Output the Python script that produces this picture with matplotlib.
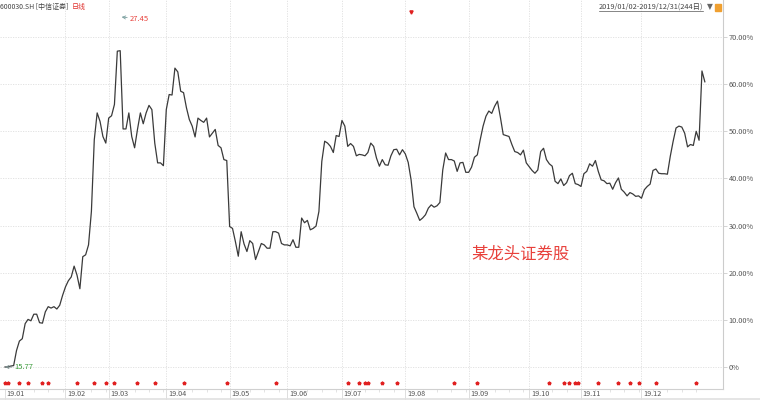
import matplotlib
matplotlib.use("Agg")
import matplotlib.pyplot as plt
from matplotlib.lines import Line2D
from matplotlib.patches import Rectangle

plt.rcParams['font.family'] = ['Noto Sans CJK SC', 'DejaVu Sans']

W, H = 760, 400

# 日线收盘涨幅(相对首日, %), 2019/01/02-2019/12/31
close_pct = [
    0.0, 0.0, 0.2, 0.3, 3.5, 5.5, 6.0, 9.2, 10.1, 9.8, 11.2, 11.2, 9.4, 9.3,
    11.7, 12.8, 12.5, 12.8, 12.3, 13.1, 15.2, 17.0, 18.3, 19.1, 21.4, 19.5,
    16.6, 23.4, 23.8, 25.9, 33.0, 48.2, 53.9, 52.1, 48.9, 47.5, 52.8, 53.3,
    55.7, 67.0, 67.1, 50.5, 50.5, 53.9, 48.9, 46.5, 50.4, 53.9, 51.6, 53.9,
    55.5, 54.6, 47.5, 43.3, 43.3, 42.7, 54.6, 57.8, 57.7, 63.4, 62.6, 58.5,
    58.2, 55.0, 52.5, 51.1, 48.8, 52.8, 52.3, 51.9, 52.8, 48.8, 49.6, 50.4,
    47.0, 46.5, 44.0, 43.8, 29.8, 29.4, 26.6, 23.5, 28.7, 26.1, 24.5, 26.8,
    26.2, 22.8, 24.5, 26.2, 25.9, 25.2, 25.2, 28.7, 28.7, 28.4, 26.2, 25.9,
    25.9, 25.7, 27.0, 25.4, 25.4, 31.6, 30.6, 31.1, 29.1, 29.4, 29.9, 33.0,
    43.6, 47.9, 47.5, 46.8, 45.5, 49.1, 48.9, 52.3, 51.1, 46.8, 47.4, 46.8,
    44.8, 45.1, 45.0, 44.8, 45.5, 47.5, 46.8, 44.3, 42.6, 44.0, 42.9, 42.8,
    44.8, 46.1, 46.2, 45.0, 46.1, 45.2, 43.4, 39.7, 34.0, 32.6, 31.1, 31.6,
    32.3, 33.7, 34.4, 33.9, 34.2, 34.9, 41.8, 45.4, 44.0, 44.0, 43.7, 41.5,
    43.3, 43.4, 41.3, 41.3, 42.4, 44.5, 45.0, 48.2, 51.1, 53.2, 54.3, 53.8,
    55.3, 56.4, 53.0, 49.3, 49.1, 48.9, 47.2, 45.7, 45.5, 45.0, 46.0, 43.3,
    42.5, 41.7, 41.1, 41.8, 45.7, 46.4, 44.0, 43.1, 42.6, 39.4, 38.9, 39.9,
    38.5, 39.1, 40.6, 41.1, 38.9, 38.7, 38.3, 41.0, 41.5, 43.1, 42.6, 43.8,
    41.5, 39.7, 39.5, 38.9, 39.0, 37.7, 39.1, 40.1, 37.7, 37.1, 36.3, 37.0,
    36.7, 36.2, 36.3, 35.8, 37.6, 38.3, 38.8, 41.7, 42.0, 41.1, 41.0, 41.0,
    40.9, 44.7, 47.9, 50.7, 51.1, 50.9, 49.6, 46.7, 47.2, 47.0, 50.0, 48.1,
    62.8, 60.5,
]

month_idx = [0, 21, 36, 56, 78, 98, 117, 139, 161, 182, 200, 221]
month_labels = ["19.01", "19.02", "19.03", "19.04", "19.05", "19.06",
                "19.07", "19.08", "19.09", "19.10", "19.11", "19.12"]

# 底部事件标记所在交易日
event_idx = [0, 1, 5, 8, 13, 15, 25, 31, 35, 38, 46, 52, 62, 77, 94, 119,
             123, 125, 126, 131, 136, 156, 164, 189, 194, 196, 198, 199,
             206, 213, 217, 220, 226, 240]

y_ticks = [0, 10, 20, 30, 40, 50, 60, 70]
y_labels = ["0%", "10.00%", "20.00%", "30.00%", "40.00%", "50.00%",
            "60.00%", "70.00%"]

price_low = "15.77"
price_high = "27.45"
high_idx = 40

GRID = "#dedede"
TXT = "#555555"
RED = "#e8413c"

fig = plt.figure(figsize=(W / 100, H / 100), dpi=100)
ax = fig.add_axes([0, 11 / H, 723 / W, 389 / H])

px_day = 2.88
ax.set_xlim(-5 / px_day, 718 / px_day)
ax.set_ylim(-22 / 4.714, 367 / 4.714)

ax.plot(range(len(close_pct)), close_pct, color="#3a3a3a", lw=0.9)

# 网格
for y in y_ticks:
    ax.axhline(y, color=GRID, lw=0.6, ls=(0, (1.5, 1.5)), zorder=0)
for m in month_idx[1:]:
    ax.axvline(m, color=GRID, lw=0.6, ls=(0, (1.5, 1.5)), zorder=0)

for s in ["top", "left"]:
    ax.spines[s].set_visible(False)
ax.spines["right"].set_color("#cccccc")
ax.spines["bottom"].set_color("#d0d0d0")
ax.spines["right"].set_linewidth(0.8)
ax.spines["bottom"].set_linewidth(0.8)

ax.yaxis.tick_right()
ax.set_yticks(y_ticks)
ax.set_yticklabels(y_labels)
ax.tick_params(axis="y", length=3, width=0.6, color="#cccccc",
               labelsize=5.3, labelcolor=TXT, pad=1)

# 月份刻度
ax.set_xticks(month_idx)
ax.set_xticklabels([])
ax.tick_params(axis="x", length=8, width=0.6, color="#d8d8d8", direction="out")
ax.set_xticks(range(0, len(close_pct), 5), minor=True)
ax.tick_params(axis="x", which="minor", length=2, width=0.5, color="#d8d8d8")
trans = ax.get_xaxis_transform()
for m, lab in zip(month_idx, month_labels):
    ax.text(m + 0.6, -5 / 389, lab, transform=trans, ha="left",
            va="center", fontsize=5.2, color=TXT)

# 事件标记
ax.plot(event_idx, [6 / 389] * len(event_idx), ls="none", marker="*",
        ms=2.6, color="#e02020", transform=trans, clip_on=False)
ax.plot([141], [377 / 389], ls="none", marker="v", ms=2.3, color="#e02020",
        transform=trans, clip_on=False)

# 最高/最低价标注
ax.annotate(price_low, xy=(0, 0), xytext=(7, 0), textcoords="offset points",
            fontsize=5.5, color="#3a9a3a", va="center", ha="left",
            arrowprops=dict(arrowstyle="->", color="#7a8f8f", lw=0.6,
                            shrinkA=0, shrinkB=0))
ax.annotate(price_high, xy=(high_idx + 0.5, 350 / 4.714), xytext=(6, -1.5),
            textcoords="offset points", fontsize=5.5, color=RED,
            va="center", ha="left",
            arrowprops=dict(arrowstyle="->", color="#7a9f9f", lw=0.6,
                            shrinkA=0, shrinkB=0))

ax.text(179, 24.0, "某龙头证券股", fontsize=11.8, color=RED,
        ha="center", va="center")

# 顶部标题
ttl = fig.text(0 / W, 1 - 6.5 / H, "600030.SH [中信证券]", fontsize=5.0,
               color="#444444", va="center", ha="left")
rng = fig.text(703 / W, 1 - 6.5 / H, "2019/01/02-2019/12/31(244日)",
               fontsize=5.3, color="#444444", va="center", ha="right")
fig.text(707 / W, 1 - 6.5 / H, "▼", fontsize=5.5, color="#666666",
         va="center", ha="left", family=["DejaVu Sans"])
fig.patches.append(Rectangle((715 / W, 1 - 11 / H), 6 / W, 7 / H,
                             transform=fig.transFigure, color="#f0a030"))

fig.canvas.draw()
inv = fig.transFigure.inverted()
tb = ttl.get_window_extent().transformed(inv)
fig.text(tb.x1 + 3 / W, 1 - 6.5 / H, "日线", fontsize=5.0, color="#e0312e",
         va="center", ha="left")
bb = rng.get_window_extent().transformed(inv)
fig.add_artist(Line2D([bb.x0, bb.x1], [bb.y0 - 0.3 / H, bb.y0 - 0.3 / H],
                      transform=fig.transFigure, color="#555555", lw=0.5))
fig.add_artist(Line2D([0, 1], [0.6 / H, 0.6 / H], transform=fig.transFigure,
                      color="#e0e0e0", lw=1.2))

fig.savefig("out.png", dpi=100)
print(len(close_pct))
